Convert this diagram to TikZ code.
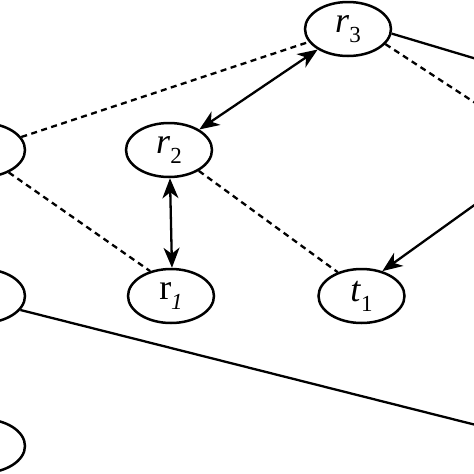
\documentclass[tikz,border=0pt]{standalone}
\usepackage{fontspec}
\setmainfont{Liberation Serif}
\usetikzlibrary{shapes.geometric,arrows.meta}
\newcommand\lbl[2]{#1\raisebox{-0.28em}{\fontsize{23}{23}\selectfont #2}}
\begin{document}
\begin{tikzpicture}[x=1pt,y=-1pt,
  state/.style={draw,ellipse,line width=2.5pt,minimum width=86pt,minimum height=54pt,inner sep=0pt,font=\fontsize{36}{36}\selectfont},
  dashline/.style={line width=2.3pt,dash pattern=on 6pt off 4.5pt},
  solidline/.style={line width=2.3pt},
  tip/.style={-{Stealth[length=20pt,width=16pt,inset=6pt]}},
  dtip/.style={{Stealth[length=20pt,width=16pt,inset=6pt]}-{Stealth[length=20pt,width=16pt,inset=6pt]}}]
\useasboundingbox (0,0) rectangle (474,474);
\clip (0,0) rectangle (474,474);
\node[state] (r3) at (348,29) {\lbl{\textit{r}}{3}};
\node[state] (r2) at (169,150) {\lbl{\textit{r}}{2}};
\node[state] (r1) at (171,296) {\lbl{r}{\textit{1}}};
\node[state] (t1) at (361.5,296) {\lbl{\textit{t}}{1}};
\node[state] (la) at (-18,150) {};
\node[state] (lb) at (-18,296) {};
\node[state] (lc) at (-18,446) {};
\coordinate (e1) at (480,60);
\coordinate (e2) at (480,106);
\coordinate (e3) at (480,201);
\coordinate (e4) at (480,426);
\draw[dashline] (la) -- (r3);
\draw[dashline] (la.-40) -- (r1.130);
\draw[dashline] (r2.-35) -- (t1.135);
\draw[dashline] (r3.-22) -- (e2);
\draw[solidline] (r3.-6) -- (e1);
\draw[solidline,dtip] (r2) -- (r3);
\draw[solidline,dtip] (r2.-88) -- (r1.88);
\draw[solidline,tip] (e3) -- (t1.50);
\draw[solidline] (lb.-20) -- (e4);
\end{tikzpicture}
\end{document}
